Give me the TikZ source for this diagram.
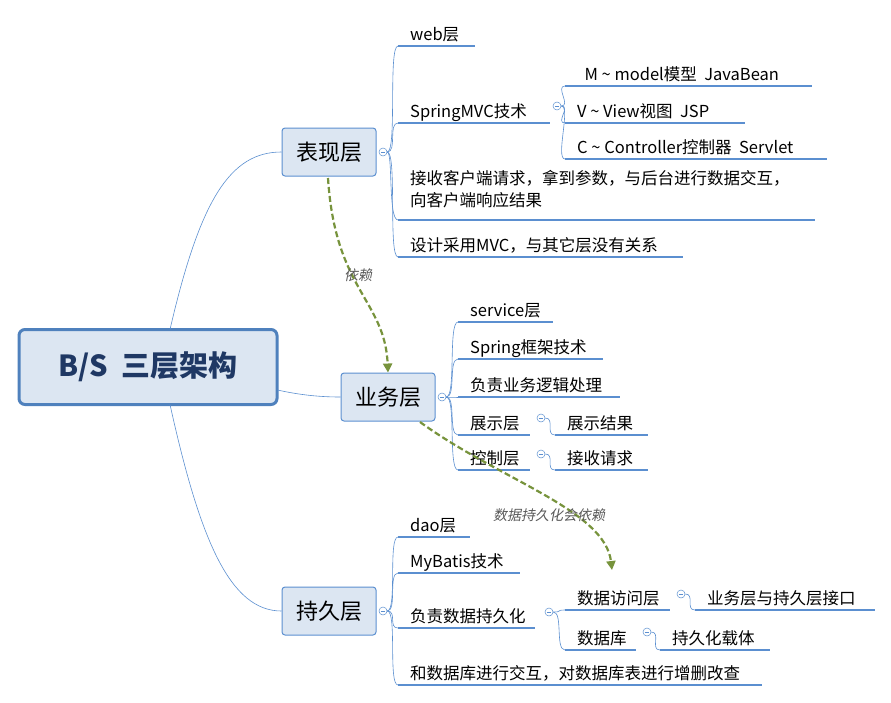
\documentclass[tikz,border=0pt]{standalone}
\usepackage{fontspec}
\setmainfont{Noto Sans CJK SC}
\newfontfamily\slfont[FakeSlant=0.2]{Noto Sans CJK SC}
\usetikzlibrary{arrows.meta,calc}
\definecolor{bl}{HTML}{4F81BD}
\definecolor{lb}{HTML}{DCE6F2}
\definecolor{ln}{HTML}{5B8FD0}
\definecolor{ol}{HTML}{77933C}
\definecolor{dk}{HTML}{1F3864}
\tikzset{
 sub/.style={draw=ln,fill=lb,rounded corners=3pt,line width=1pt,minimum width=94pt,minimum height=48pt,font=\fontsize{22}{26}\selectfont,text=black},
 br/.style={draw=ln,line width=0.6pt},
 ul/.style={draw=ln,line width=1.6pt},
 lt/.style={font=\fontsize{16.5}{22}\selectfont,anchor=base west,inner sep=0pt},
 cc/.style={circle,draw=ln,fill=white,inner sep=0pt,minimum size=8pt,line width=0.5pt},
 dep/.style={draw=ol,line width=2.2pt,dash pattern=on 6pt off 3pt,-{Triangle[length=9pt,width=9pt]}},
 dl/.style={font=\slfont\fontsize{14}{16}\selectfont,text=gray!70!black}
}
\newcommand{\leaf}[6]{% name, parent, x, y(underline), xend, text
 \coordinate (#1s) at (#3,#4);
 \path[br] (#2.east) .. controls ($(#2.east)+(10,0)$) and ($(#1s)+(-10,0)$) .. (#1s);
 \path[ul] (#1s) -- (#5,#4) coordinate (#1e);
 \node[lt] (#1) at (#3+12,#4-6) {#6};}
\newcommand{\minusmark}[1]{\draw[ln,line width=0.5pt] ($(#1)+(-2.2,0)$) -- ($(#1)+(2.2,0)$);}
\begin{document}
\begin{tikzpicture}[x=1pt,y=-1pt]
\useasboundingbox (0,0) rectangle (891,702);
\node[draw=bl,fill=lb,line width=3pt,rounded corners=6pt,minimum width=258pt,minimum height=75pt,font=\bfseries\fontsize{29}{32}\selectfont,text=dk] (m) at (148,367) {B/S\ \ 三层架构};
\node[sub] (p) at (329,152) {表现层};
\node[sub] (b) at (388,397) {业务层};
\node[sub] (d) at (329,611) {持久层};
\draw[br] (170,329.5) .. controls (200,200) and (230,152) .. (p.west);
\draw[br] (277.5,390) .. controls (300,395) and (320,397) .. (b.west);
\draw[br] (170,404.5) .. controls (200,540) and (230,611) .. (d.west);
\node[cc] (pc) at (383,152) {};
\node[cc] (bc) at (442,397) {};
\node[cc] (dc) at (383,611) {};
% 表现层
\leaf{w}{pc}{398}{46}{475}{web层}
\leaf{s}{pc}{398}{123}{550}{SpringMVC技术}
\coordinate (r1s) at (398,220);
\path[br] (pc.east) .. controls (393,152) and (388,220) .. (r1s);
\path[ul] (r1s) -- (815,220);
\node[lt,align=left,anchor=north west] (r1) at (410,170) {接收客户端请求，拿到参数，与后台进行数据交互，\\向客户端响应结果};
\leaf{r2}{pc}{398}{257}{683}{设计采用MVC，与其它层没有关系}
\node[cc] (sc) at (557,106) {};
\leaf{mm}{sc}{565}{86}{812}{\ \ M \textasciitilde{} model模型\ \ JavaBean}
\leaf{vv}{sc}{565}{123}{745}{V \textasciitilde{} View视图\ \ JSP}
\leaf{cv}{sc}{565}{159}{827}{C \textasciitilde{} Controller控制器\ \ Servlet}
% 业务层
\leaf{b1}{bc}{458}{322}{553}{service层}
\leaf{b2}{bc}{458}{359}{603}{Spring框架技术}
\leaf{b3}{bc}{458}{397}{620}{负责业务逻辑处理}
\leaf{b4}{bc}{458}{435}{530}{展示层}
\leaf{b5}{bc}{458}{470}{530}{控制层}
\node[cc] (b4c) at (541,418) {};
\node[cc] (b5c) at (541,454) {};
\leaf{b6}{b4c}{555}{435}{648}{展示结果}
\leaf{b7}{b5c}{555}{470}{648}{接收请求}
% 持久层
\leaf{d1}{dc}{398}{537}{470}{dao层}
\leaf{d2}{dc}{398}{573}{520}{MyBatis技术}
\leaf{d3}{dc}{398}{628}{535}{负责数据持久化}
\leaf{d4}{dc}{398}{685}{762}{和数据库进行交互，对数据库表进行增删改查}
\node[cc] (d3c) at (549,612) {};
\leaf{d5}{d3c}{565}{610}{670}{数据访问层}
\leaf{d6}{d3c}{565}{650}{636}{数据库}
\node[cc] (d5c) at (681,594) {};
\node[cc] (d6c) at (647,632) {};
\leaf{d7}{d5c}{695}{610}{875}{业务层与持久层接口}
\leaf{d8}{d6c}{660}{650}{770}{持久化载体}
\foreach \c in {pc,bc,dc,sc,b4c,b5c,d3c,d5c,d6c} {\minusmark{\c}}
% dependencies
\draw[dep] (328,178) .. controls (335,290) and (385,300) .. (b.north);
\node[dl] (l1) at (358,275) {依赖};
\draw[dep] (420,422) .. controls (500,480) and (605,510) .. (612,570);
\node[dl] (l2) at (549,515) {数据持久化会依赖};
\end{tikzpicture}
\end{document}
